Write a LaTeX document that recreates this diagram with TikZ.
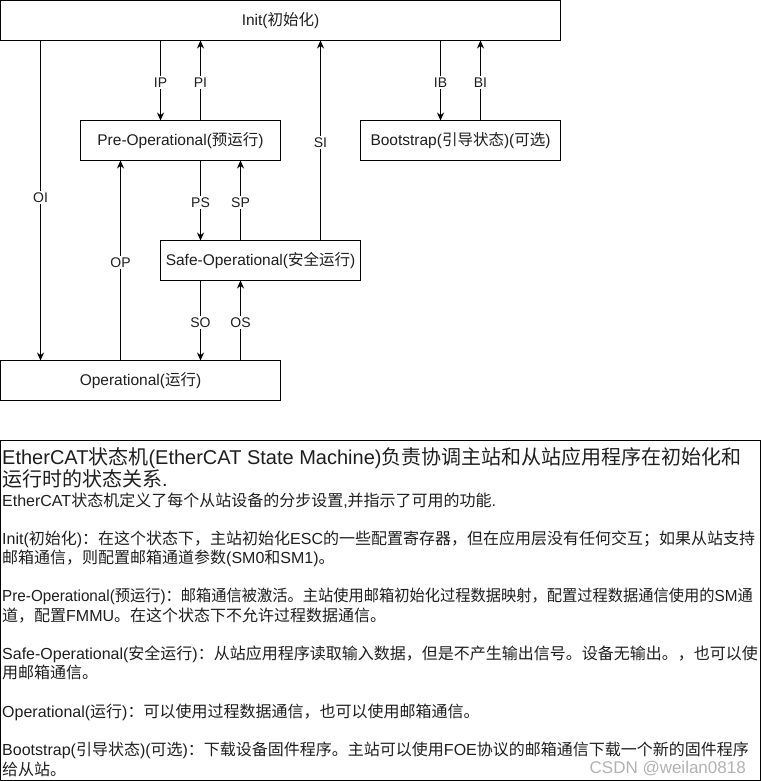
\documentclass[tikz,border=0pt]{standalone}
\usepackage{fontspec}
\usepackage{graphicx}
\setmainfont{Liberation Sans}
\newfontfamily\cjk{Noto Sans CJK SC}
\usetikzlibrary{arrows.meta,calc}
% automatic switch to the CJK font for CJK characters
\XeTeXinterchartokenstate=1
\chardef\CJKcls=7
\newcount\cjkc
\cjkc="4E00
\loop\XeTeXcharclass\cjkc=\CJKcls \ifnum\cjkc<"9FFF \advance\cjkc by 1 \repeat
\XeTeXcharclass"3001=\CJKcls \XeTeXcharclass"3002=\CJKcls
\XeTeXcharclass"FF0C=\CJKcls \XeTeXcharclass"FF1A=\CJKcls \XeTeXcharclass"FF1B=\CJKcls
\XeTeXinterchartoks 0 \CJKcls = {\begingroup\cjk}
\XeTeXinterchartoks 4095 \CJKcls = {\begingroup\cjk}
\XeTeXinterchartoks \CJKcls 0 = {\endgroup}
\XeTeXinterchartoks \CJKcls 4095 = {\endgroup}
\definecolor{txt}{HTML}{1E1E1E}
\begin{document}
\begin{tikzpicture}[x=1pt,y=-1pt,
  box/.style={draw=black,line width=1pt,fill=white,inner sep=0pt,outer sep=0pt,
    minimum width=200pt,minimum height=40pt,font=\fontsize{15.5}{18}\selectfont,text=txt},
  arr/.style={line width=1pt,-{Stealth[length=8pt,width=7pt]}},
  lbl/.style={fill=white,inner sep=1.5pt,yshift=-2pt,font=\fontsize{14}{16}\selectfont,text=txt},
  body/.style={anchor=base west,align=left,inner sep=0pt,font=\fontsize{16}{19.2}\selectfont,text=txt}]
\useasboundingbox (0,0) rectangle (761,781);
% states
\node[box,minimum width=560pt] (init) at (280.5,20.5) {Init(初始化)};
\node[box] (pre) at (180.5,140.5) {Pre-Operational(预运行)};
\node[box] (boot) at (460.5,140.5) {Bootstrap(引导状态)(可选)};
\node[box] (safe) at (260.5,260.5) {Safe-Operational(安全运行)};
\node[box,minimum width=280pt] (op) at (140.5,380.5) {Operational(运行)};
% connector x positions
\coordinate (xOI) at ($(op.north west)+(40,0)$);
\coordinate (xIP) at ($(pre.north west)+(80,0)$);
\coordinate (xPI) at ($(pre.north west)+(120,0)$);
\coordinate (xSI) at ($(safe.north west)+(160,0)$);
\coordinate (xIB) at ($(boot.north west)+(80,0)$);
\coordinate (xBI) at ($(boot.north west)+(120,0)$);
\coordinate (xOP) at ($(op.north west)+(120,0)$);
\coordinate (xPS) at ($(safe.north west)+(40,0)$);
\coordinate (xSP) at ($(safe.north west)+(80,0)$);
\coordinate (xSO) at ($(op.north west)+(200,0)$);
\coordinate (xOS) at ($(op.north west)+(240,0)$);
% transitions
\draw[arr] (init.south -| xOI) -- (xOI) node[lbl,midway,yshift=5pt] {OI};
\draw[arr] (init.south -| xIP) -- (xIP) node[lbl,midway] {IP};
\draw[arr] (xPI) -- (init.south -| xPI) node[lbl,midway] {PI};
\draw[arr] (xSI) -- (init.south -| xSI) node[lbl,midway] {SI};
\draw[arr] (init.south -| xIB) -- (xIB) node[lbl,midway] {IB};
\draw[arr] (xBI) -- (init.south -| xBI) node[lbl,midway] {BI};
\draw[arr] (xOP) -- (pre.south -| xOP) node[lbl,midway] {OP};
\draw[arr] (pre.south -| xPS) -- (xPS) node[lbl,midway] {PS};
\draw[arr] (xSP) -- (pre.south -| xSP) node[lbl,midway] {SP};
\draw[arr] (safe.south -| xSO) -- (xSO) node[lbl,midway] {SO};
\draw[arr] (xOS) -- (safe.south -| xOS) node[lbl,midway] {OS};
% description box
\node[draw=black,line width=1pt,inner sep=0pt,minimum width=760pt,minimum height=340pt] (desc) at (380.5,610.5) {};
\node[body,font=\fontsize{20}{22}\selectfont] (title) at (2,486) {EtherCAT状态机(EtherCAT State Machine)负责协调主站和从站应用程序在初始化和\\运行时的状态关系.};
\node[body] (intro) at (2,506) {EtherCAT状态机定义了每个从站设备的分步设置,并指示了可用的功能.};
\node[body] (dinit) at (2,563.5) {Init(初始化)：在这个状态下，主站初始化ESC的一些配置寄存器，但在应用层没有任何交互；如果从站支持\\邮箱通信，则配置邮箱通道参数(SM0和SM1)。};
\node[body] (dpre) at (2,621) {\scalebox{0.953}[1]{Pre-Operational(预运行)：邮箱通信被激活。主站使用邮箱初始化过程数据映射，配置过程数据通信使用的SM通}\\道，配置FMMU。在这个状态下不允许过程数据通信。};
\node[body] (dsafe) at (2,678.5) {Safe-Operational(安全运行)：从站应用程序读取输入数据，但是不产生输出信号。设备无输出。，也可以使\\用邮箱通信。};
\node[body] (dop) at (2,717) {Operational(运行)：可以使用过程数据通信，也可以使用邮箱通信。};
\node[body] (dboot) at (2,775) {Bootstrap(引导状态)(可选)：下载设备固件程序。主站可以使用FOE协议的邮箱通信下载一个新的固件程序\\给从站。};
\node[anchor=base east,inner sep=0pt,text=black!30,font=\fontsize{17}{19}\selectfont] (wm) at (746,773) {CSDN @weilan0818};
\end{tikzpicture}
\end{document}
